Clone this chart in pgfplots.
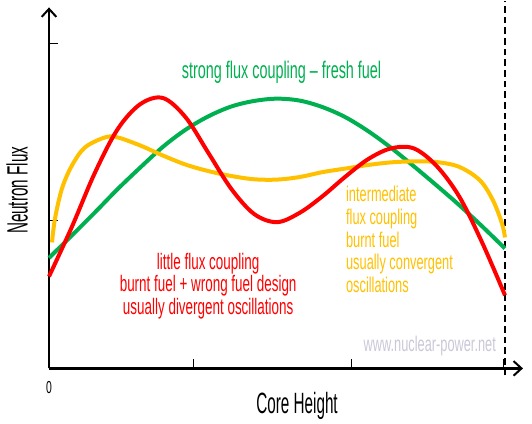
\documentclass[border=0pt]{standalone}
\usepackage{pgfplots}
\pgfplotsset{compat=1.18}
\usepackage{fontspec}
\setmainfont{Liberation Sans}[FakeStretch=0.6]
\newfontfamily\labelfont{Liberation Sans}[FakeStretch=0.52]
\usetikzlibrary{arrows.meta}
\definecolor{cgreen}{RGB}{0,176,80}
\definecolor{cred}{RGB}{255,0,0}
\definecolor{cyellow}{RGB}{255,192,0}
\definecolor{cwm}{RGB}{200,200,216}
\begin{document}
\begin{tikzpicture}
\begin{axis}[
  scale only axis,
  width=355.5pt, height=270.75pt,
  xmin=0, xmax=1.0395, ymin=0, ymax=1.1108,
  clip=false,
  axis lines=left,
  axis line style={line width=2.2pt, -{Straight Barb[length=6pt,width=11pt,line width=1.5pt]}},
  xtick={0,0.316,0.664,0.996},
  xticklabels={0,,,},
  ytick={0.455,1},
  yticklabels={,},
  tick align=inside,
  major tick length=7pt,
  tick style={black, line width=0.8pt},
  /pgf/number format/assume math mode=true,
  xticklabel style={font=\fontsize{13}{14}\selectfont, yshift=-6pt},
  xlabel={Core Height},
  xlabel style={at={(axis cs:0.544,-0.114)}, anchor=center, font=\labelfont\fontsize{22}{24}\selectfont},
  ylabel={Neutron Flux},
  ylabel style={at={(axis cs:-0.070,0.548)}, anchor=center, rotate=0, font=\labelfont\fontsize{22}{24}\selectfont},
  every axis plot/.append style={line width=3pt, smooth, tension=0.55},
]
\path (rel axis cs:-0.1034,-0.1496) rectangle (rel axis cs:1.019,1.0194);
\draw[black, line width=0.8pt, dash pattern=on 5pt off 3pt] (axis cs:1,-0.0215) -- (axis cs:1,1.132);

\addplot[cgreen] coordinates {
(0.00,0.340) (0.05,0.409) (0.10,0.479) (0.15,0.551) (0.20,0.618) (0.25,0.682)
(0.30,0.735) (0.35,0.776) (0.40,0.806) (0.45,0.823) (0.50,0.830) (0.55,0.824)
(0.60,0.804) (0.65,0.773) (0.70,0.730) (0.75,0.679) (0.80,0.622) (0.85,0.563)
(0.90,0.502) (0.95,0.437) (1.00,0.369)};

\addplot[cyellow] coordinates {
(0.0066,0.3877) (0.0132,0.4615) (0.0285,0.5538) (0.0504,0.6246) (0.0789,0.6800)
(0.1228,0.7108) (0.15,0.711) (0.20,0.686) (0.25,0.655) (0.30,0.627) (0.35,0.607)
(0.40,0.592) (0.45,0.582) (0.50,0.581) (0.55,0.589) (0.60,0.604) (0.65,0.615)
(0.70,0.626) (0.75,0.634) (0.80,0.637) (0.85,0.635) (0.90,0.620) (0.9452,0.5785)
(0.9737,0.5169) (0.9934,0.4462) (1.0,0.4031)};

\addplot[cred] coordinates {
(0.00,0.283) (0.05,0.435) (0.10,0.600) (0.15,0.735) (0.20,0.813) (0.25,0.832)
(0.30,0.772) (0.35,0.662) (0.40,0.552) (0.45,0.475) (0.50,0.450) (0.55,0.479)
(0.60,0.530) (0.65,0.590) (0.70,0.644) (0.75,0.677) (0.80,0.677) (0.85,0.623)
(0.90,0.528) (0.95,0.387) (1.00,0.225)};

\node[cgreen, font=\fontsize{18}{19}\selectfont, anchor=center] at (axis cs:0.510,0.911) {strong flux coupling -- fresh fuel};
\node[cred, font=\fontsize{16.8}{16.9}\selectfont, align=center, anchor=center] at (axis cs:0.349,0.253)
  {little flux coupling\\burnt fuel + wrong fuel design\\usually divergent oscillations};
\node[cyellow, font=\fontsize{16}{16.9}\selectfont, align=left, anchor=west, inner sep=0pt] at (axis cs:0.651,0.397)
  {intermediate\\flux coupling\\burnt fuel\\usually convergent\\oscillations};
\node[cwm, font=\fontsize{16}{17}\selectfont, anchor=center] at (axis cs:0.835,0.068) {www.nuclear-power.net};
\end{axis}
\end{tikzpicture}
\end{document}
